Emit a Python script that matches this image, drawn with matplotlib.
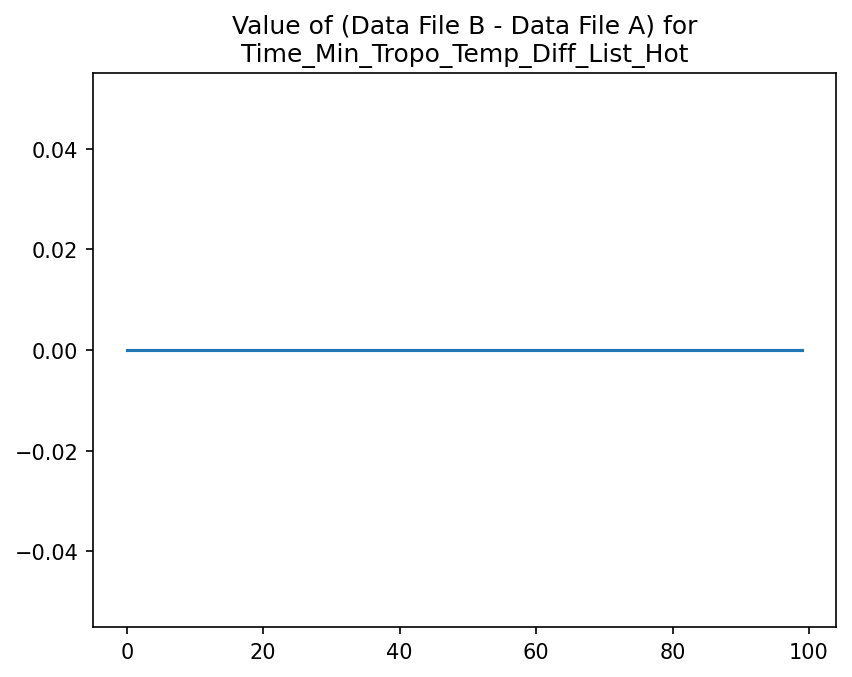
import matplotlib
matplotlib.use("Agg")
import matplotlib.pyplot as plt

# Data: difference values (all zero) for 100 samples
indices = list(range(100))
diff_values = [
    0.0, 0.0, 0.0, 0.0, 0.0, 0.0, 0.0, 0.0, 0.0, 0.0,
    0.0, 0.0, 0.0, 0.0, 0.0, 0.0, 0.0, 0.0, 0.0, 0.0,
    0.0, 0.0, 0.0, 0.0, 0.0, 0.0, 0.0, 0.0, 0.0, 0.0,
    0.0, 0.0, 0.0, 0.0, 0.0, 0.0, 0.0, 0.0, 0.0, 0.0,
    0.0, 0.0, 0.0, 0.0, 0.0, 0.0, 0.0, 0.0, 0.0, 0.0,
    0.0, 0.0, 0.0, 0.0, 0.0, 0.0, 0.0, 0.0, 0.0, 0.0,
    0.0, 0.0, 0.0, 0.0, 0.0, 0.0, 0.0, 0.0, 0.0, 0.0,
    0.0, 0.0, 0.0, 0.0, 0.0, 0.0, 0.0, 0.0, 0.0, 0.0,
    0.0, 0.0, 0.0, 0.0, 0.0, 0.0, 0.0, 0.0, 0.0, 0.0,
    0.0, 0.0, 0.0, 0.0, 0.0, 0.0, 0.0, 0.0, 0.0, 0.0,
]
title = "Value of (Data File B - Data File A) for\nTime_Min_Tropo_Temp_Diff_List_Hot"

fig = plt.figure(figsize=(852 / 150, 678 / 150), dpi=150)
ax = fig.add_axes([93 / 852, 1 - 628 / 678, (836 - 93) / 852, (628 - 74) / 678])
ax.plot(indices, diff_values, color="#1f77b4", linewidth=1.5)
ax.set_title(title)
fig.savefig("out.png", dpi=150)
